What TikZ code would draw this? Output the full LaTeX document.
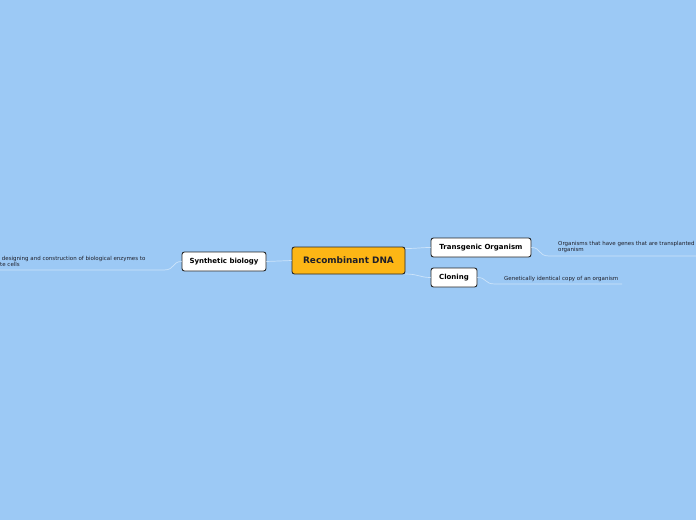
\documentclass[tikz,border=0pt]{standalone}
\usepackage{fontspec}
\setmainfont{DejaVu Sans}
\usetikzlibrary{positioning}
\definecolor{MyBack}{RGB}{156,201,245}
\definecolor{MyRoot}{RGB}{253,182,21}
\definecolor{MyLink}{RGB}{205,228,250}
\definecolor{MyText}{RGB}{30,30,40}
\tikzset{
    topic/.style={
      rectangle,
      fill=white,
      rounded corners=2.5pt,
      draw=black!85,
      line width=0.9pt,
      text=black,
      font=\bfseries\fontsize{7}{8}\selectfont,
      minimum height=19pt,
      inner sep=0pt
    },
    root/.style={
      topic,
      fill=MyRoot,
      text=MyText,
      font=\bfseries\fontsize{8.9}{10}\selectfont,
      minimum height=27pt
    },
    leaf/.style={
      align=left,
      text=MyText,
      font=\fontsize{5.5}{6.8}\selectfont,
      inner sep=0pt
    },
    link/.style={
      color=MyLink,
      line width=0.7pt
    },
}

\begin{document}
\begin{tikzpicture}[x=1pt,y=-1pt]
    \fill[MyBack] (0,0) rectangle (696,520);
    \useasboundingbox (0,0) rectangle (696,520);

    \draw (348.5,260.5) node[root,minimum width=113pt] (R) {Recombinant DNA};
    \draw (224,261.5) node[topic,minimum width=84pt] (S) {Synthetic biology};
    \draw (481,247.5) node[topic,minimum width=100pt] (T) {Transgenic Organism};
    \draw (454,277.5) node[topic,minimum width=46pt] (C) {Cloning};

    % main branches
    \draw[link] (R.east |- 0,248.5) .. controls (418,248.5) and (420,247.5) .. (T.west);
    \draw[link] (R.east |- 0,274) .. controls (418,274) and (420,277.5) .. (C.west);
    \draw[link] (R.west) -- (S.east);

    % leaves
    \coordinate (Tend) at (696,256);
    \coordinate (Cend) at (622,284);
    \coordinate (Send) at (0,270);
    \draw[link] (T.east) .. controls (541,247.5) and (538,256) .. (549,256) -- (Tend);
    \draw[link] (C.east) .. controls (487,277.5) and (484,284) .. (495,284) -- (Cend);
    \draw[link] (S.west) .. controls (172,261.5) and (175,270) .. (164,270) -- (Send);

    \draw (558,247) node[leaf,anchor=west] (TL) {Organisms that have genes that are transplanted\\organism};
    \draw (504,278.5) node[leaf,anchor=west] (CL) {Genetically identical copy of an organism};
    \draw (0,261.5) node[leaf,anchor=west] (SL) {\ designing and construction of biological enzymes to\\te cells};
  \end{tikzpicture}
\end{document}
